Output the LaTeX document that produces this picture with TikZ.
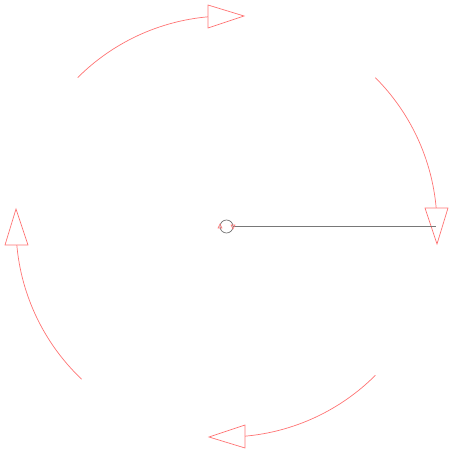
\documentclass[tikz,border=0pt]{standalone}
\usetikzlibrary{calc}
\begin{document}
\begin{tikzpicture}[x=1pt,y=1pt,
  redline/.style={draw={rgb,255:red,255;green,115;blue,115},line width=0.7pt},
  grayline/.style={draw={rgb,255:red,120;green,120;blue,120},line width=0.7pt}]
\useasboundingbox (0,0) rectangle (453,453);
\coordinate (c) at (226.5,226.5);
\foreach \r/\s in {0/135,-90/135,-180/135,-270/136.5}{
  \begin{scope}[shift={(c)},rotate=\r]
    \draw[redline] (\s:210.5) arc[start angle=\s,end angle=95.05,radius=210.5];
    \draw[redline,line join=miter] (-18.5,221.5) -- (17.5,210.5) -- (-18.5,198.5) -- cycle;
  \end{scope}
}
\draw[grayline] (c) circle[radius=6.5];
\coordinate (e) at (436,226.5);
\draw[grayline] ($(c)+(6.5,0)$) -- (e);
\draw[redline,line width=0.6pt] ($(c)+(-8.5,-1.5)$) -- ($(c)+(-6.5,2.5)$) -- ($(c)+(-4.5,-1.5)$) -- cycle;
\draw[redline,line width=0.6pt] ($(c)+(4.5,1.5)$) -- ($(c)+(6.5,-2.5)$) -- ($(c)+(8.5,1.5)$) -- cycle;
\end{tikzpicture}
\end{document}
